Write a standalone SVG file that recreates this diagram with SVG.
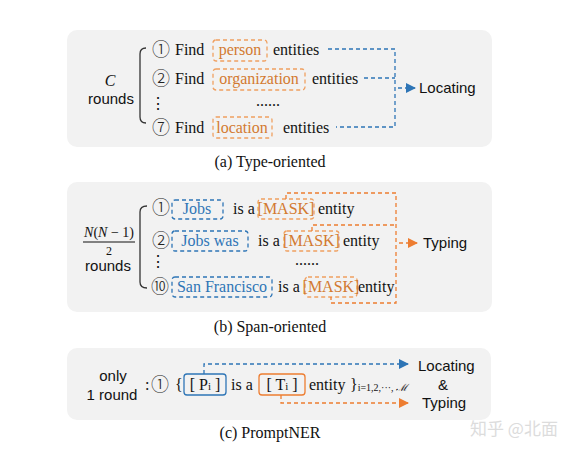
<svg xmlns="http://www.w3.org/2000/svg" width="576" height="454" viewBox="0 0 576 454">
<style>
.panel{fill:#f2f2f2;stroke:none}
.serif{font-family:"Liberation Serif","Times New Roman",serif;font-size:16px;fill:#111}
.sans{font-family:"Liberation Sans",Arial,sans-serif;font-size:15px;fill:#111}
.num{font-family:"Noto Sans CJK SC","DejaVu Sans",sans-serif;font-size:18px;fill:#222;font-weight:300}
.obox{fill:none;stroke:#f0a060;stroke-width:1.3;stroke-dasharray:4 3}
.bbox{fill:none;stroke:#2e75b6;stroke-width:1.3;stroke-dasharray:4 3}
.otxt{fill:#d27a30}
.btxt{fill:#2e75b6}
.bline{fill:none;stroke:#2e75b6;stroke-width:1.3;stroke-dasharray:4 3}
.oline{fill:none;stroke:#ed7d31;stroke-width:1.3;stroke-dasharray:4 3}
.brace{fill:none;stroke:#333;stroke-width:1.3}
.cap{font-family:"Liberation Serif","Times New Roman",serif;font-size:16px;fill:#111;text-anchor:middle}
</style>
<defs>
<marker id="ab" viewBox="0 0 10 10" refX="9" refY="5" markerWidth="10" markerHeight="10" markerUnits="userSpaceOnUse" orient="auto"><path d="M0,0 L10,5 L0,10 z" fill="#2e75b6"/></marker>
<marker id="ao" viewBox="0 0 10 10" refX="9" refY="5" markerWidth="10" markerHeight="10" markerUnits="userSpaceOnUse" orient="auto"><path d="M0,0 L10,5 L0,10 z" fill="#ed7d31"/></marker>
</defs>

<!-- Panel (a) -->
<g id="panel-a">
<rect class="panel" x="67" y="30" width="425" height="117" rx="10"/>
<text class="serif" x="110" y="86" text-anchor="middle" font-style="italic" font-size="15">C</text>
<text class="sans" x="111" y="104" text-anchor="middle">rounds</text>
<path class="brace" d="M146,48 Q140,48 140,54 V117 Q140,123 146,123"/>
</g>
<g id="a-row1">
<text class="num" x="152" y="56">①</text>
<text class="serif" x="175" y="55">Find</text>
<rect class="obox" x="213" y="40" width="54" height="21" rx="3"/>
<text class="serif otxt" x="240" y="55" text-anchor="middle">person</text>
<text class="serif" x="273" y="55">entities</text>
</g>
<g id="a-row2">
<text class="num" x="152" y="85">②</text>
<text class="serif" x="175" y="84">Find</text>
<rect class="obox" x="213" y="69" width="92" height="21" rx="3"/>
<text class="serif otxt" x="259" y="84" text-anchor="middle">organization</text>
<text class="serif" x="312" y="84">entities</text>
</g>
<g id="a-dots">
<text class="serif" x="158" y="109" text-anchor="middle" font-size="13">⋮</text>
<text class="serif" x="268" y="106" text-anchor="middle">......</text>
</g>
<g id="a-row7">
<text class="num" x="152" y="134">⑦</text>
<text class="serif" x="175" y="133">Find</text>
<rect class="obox" x="213" y="117" width="59" height="21" rx="3"/>
<text class="serif otxt" x="242" y="133" text-anchor="middle">location</text>
<text class="serif" x="283" y="133">entities</text>
</g>
<g id="locating-a">
<text class="sans" x="419" y="93">Locating</text>
</g>
<text class="cap" x="270" y="167">(a) Type-oriented</text>

<!-- Panel (b) -->
<g id="panel-b">
<rect class="panel" x="67" y="182" width="425" height="130" rx="10"/>
<text x="109" y="237" text-anchor="middle" font-family="Liberation Serif,serif" font-size="14" fill="#111"><tspan font-style="italic">N</tspan>(<tspan font-style="italic">N</tspan> − 1)</text>
<line x1="83" y1="242" x2="135" y2="242" stroke="#111" stroke-width="1"/>
<text x="109" y="255" text-anchor="middle" font-family="Liberation Serif,serif" font-size="12" fill="#111">2</text>
<text class="sans" x="108" y="271" text-anchor="middle">rounds</text>
<path class="brace" d="M147,206 Q140,206 140,212 V282 Q140,288 147,288"/>
</g>
<g id="b-row1">
<text class="num" x="152" y="214">①</text>
<rect class="bbox" x="172" y="200" width="51" height="19" rx="3"/>
<text class="serif btxt" x="197" y="214" text-anchor="middle">Jobs</text>
<text class="serif" x="233" y="214">is a</text>
<rect class="obox" x="258" y="199" width="56" height="20" rx="3"/>
<text class="serif otxt" x="286" y="214" text-anchor="middle" font-size="13">[MASK]</text>
<text class="serif" x="318" y="214">entity</text>
</g>
<g id="b-row2">
<text class="num" x="152" y="247">②</text>
<rect class="bbox" x="172" y="231" width="76" height="20" rx="3"/>
<text class="serif btxt" x="210" y="246" text-anchor="middle">Jobs was</text>
<text class="serif" x="258" y="246">is a</text>
<rect class="obox" x="284" y="231" width="55" height="20" rx="3"/>
<text class="serif otxt" x="311.5" y="246" text-anchor="middle" font-size="13">[MASK]</text>
<text class="serif" x="343" y="246">entity</text>
</g>
<g id="b-dots">
<text class="serif" x="158" y="267" text-anchor="middle" font-size="13">⋮</text>
<text class="serif" x="307" y="265" text-anchor="middle">......</text>
</g>
<g id="b-row10">
<text class="num" x="151" y="293">⑩</text>
<rect class="bbox" x="172" y="277" width="100" height="20" rx="3"/>
<text class="serif btxt" x="222" y="292" text-anchor="middle">San Francisco</text>
<text class="serif" x="278" y="292">is a</text>
<rect class="obox" x="305" y="277" width="52" height="20" rx="3"/>
<text class="serif otxt" x="331" y="292" text-anchor="middle" font-size="13">[MASK]</text>
<text class="serif" x="358" y="292">entity</text>
</g>
<g id="typing-b">
<text class="sans" x="423" y="248">Typing</text>
</g>
<text class="cap" x="270" y="332">(b) Span-oriented</text>

<!-- Panel (c) -->
<g id="panel-c">
<rect class="panel" x="67" y="348" width="424" height="72" rx="10"/>
<text class="sans" x="113" y="381" text-anchor="middle">only</text>
<text class="sans" x="112" y="400" text-anchor="middle">1 round</text>
<text class="serif" x="145" y="390">:</text>
<text class="num" x="151" y="391">①</text>
<text class="serif" x="175" y="390">{</text>
</g>
<g id="c-P">
<rect x="184" y="374" width="42" height="21" rx="3" fill="none" stroke="#2e75b6" stroke-width="1.3"/>
<text class="serif" x="205" y="390" text-anchor="middle">[ P<tspan font-size="11">i</tspan> ]</text>
</g>
<text class="serif" x="231" y="390">is a</text>
<g id="c-T">
<rect x="259" y="374" width="46" height="21" rx="3" fill="none" stroke="#ed7d31" stroke-width="1.3"/>
<text class="serif" x="282" y="390" text-anchor="middle">[ T<tspan font-size="11">i</tspan> ]</text>
</g>
<text class="serif" x="309" y="390">entity</text>
<text class="serif" x="350" y="390">}<tspan font-size="10" dy="1">i=1,2,···, </tspan><tspan font-size="10" font-style="italic" font-family="DejaVu Serif,serif">ℳ</tspan></text>
<g id="c-out">
<text class="sans" x="418" y="371">Locating</text>
<text class="sans" x="443" y="390" text-anchor="middle">&amp;</text>
<text class="sans" x="422" y="408">Typing</text>
</g>
<text class="cap" x="270" y="438">(c) PromptNER</text>

<!-- Connectors -->
<g id="connectors">
<path class="bline" d="M328,49 H395 V127 H336"/>
<path class="bline" d="M364,78 H395"/>
<path class="bline" d="M398,88 H415" marker-end="url(#ab)"/>
<path class="oline" d="M286,199 V193 H396 V303 H331 V297"/>
<path class="oline" d="M312,231 V225 H396"/>
<path class="oline" d="M399,243 H417" marker-end="url(#ao)"/>
<path class="bline" d="M204,374 V364 H408" marker-end="url(#ab)"/>
<path class="oline" d="M281,395 V403 H408" marker-end="url(#ao)"/>
</g>

<text x="470" y="435" font-family="Noto Sans CJK SC,sans-serif" font-size="17" fill="#dcdcdc">知乎 @北面</text>
</svg>
